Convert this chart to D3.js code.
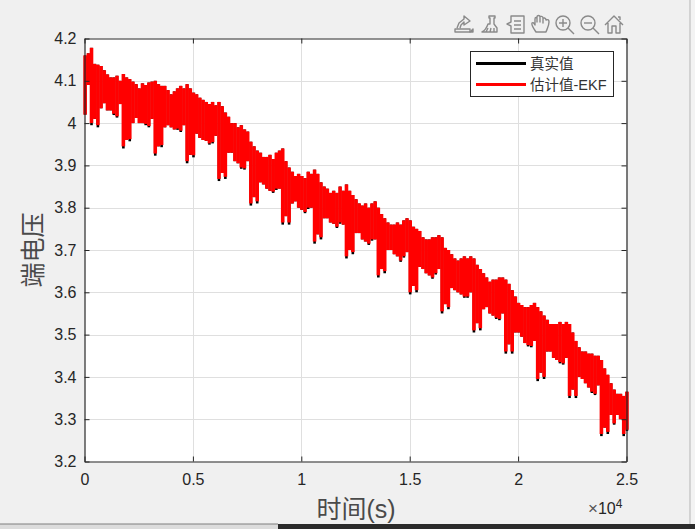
<!DOCTYPE html>
<html><head><meta charset="utf-8">
<script src="https://cdn.jsdelivr.net/npm/d3@7/dist/d3.min.js"></script>
<style>html,body{margin:0;padding:0;background:#f0f0f0;overflow:hidden}svg{display:block}</style>
</head><body><svg id="c" width="695" height="529"></svg>
<script>
const xTickValues = [0, 5000, 10000, 15000, 20000, 25000];
const xTickLabels = ["0", "0.5", "1", "1.5", "2", "2.5"];
const yTickValues = [3.2, 3.3, 3.4, 3.5, 3.6, 3.7, 3.8, 3.9, 4.0, 4.1, 4.2];
const yTickLabels = ["3.2", "3.3", "3.4", "3.5", "3.6", "3.7", "3.8", "3.9", "4", "4.1", "4.2"];
const seriesNames = ["真实值", "估计值-EKF"];
const seriesColors = ["#000000", "#ff0000"];
const xLabel = "时间(s)";
const yLabel = "端电压";

// Sample instants (s)
const sampleStart = 29, sampleStep = 147, sampleEnd = 25020;

// Upper envelope of both curves (V)
const peakV = [4.16,4.165,
4.178,4.14,4.138,4.135,4.125,4.115,4.108,4.108,4.112,4.10,
4.116,4.108,4.104,4.098,4.092,4.082,4.094,4.09,4.096,4.098,
4.10,4.092,4.088,4.088,4.078,4.068,4.075,4.082,4.088,4.082,
4.092,4.082,4.072,4.068,4.06,4.055,4.05,4.045,4.05,4.042,
4.05,4.04,4.025,4.015,4.0,4.0,3.99,3.995,3.985,3.98,
3.956,3.945,3.935,3.93,3.92,3.92,3.925,3.915,3.93,3.935,
3.94,3.91,3.895,3.885,3.875,3.88,3.875,3.87,3.885,3.88,
3.89,3.88,3.86,3.85,3.845,3.835,3.84,3.835,3.85,3.84,
3.855,3.84,3.83,3.82,3.81,3.805,3.81,3.80,3.81,3.815,
3.80,3.785,3.775,3.765,3.76,3.76,3.765,3.76,3.77,3.775,
3.77,3.755,3.75,3.745,3.73,3.725,3.725,3.73,3.73,3.735,
3.73,3.705,3.70,3.69,3.68,3.675,3.68,3.685,3.68,3.685,
3.68,3.665,3.655,3.645,3.635,3.625,3.63,3.63,3.635,3.635,
3.63,3.62,3.605,3.59,3.575,3.57,3.565,3.565,3.57,3.575,
3.565,3.555,3.545,3.535,3.525,3.525,3.525,3.53,3.525,3.53,
3.525,3.505,3.485,3.47,3.46,3.46,3.455,3.455,3.45,3.45,
3.44,3.42,3.405,3.385,3.37,3.36,3.36,3.355,3.365];

// Lower envelope of the EKF estimate (V)
const estTroughV = [4.02,4.09,
4.0,4.01,3.995,4.035,4.047,4.03,4.03,4.022,4.016,4.045,
3.945,3.96,3.962,4.0,4.012,4.0,4.0,3.998,3.993,4.01,
3.928,3.945,3.948,3.99,3.995,3.99,3.985,3.987,3.982,3.995,
3.91,3.925,3.924,3.975,3.965,3.96,3.958,3.952,3.955,3.97,
3.868,3.882,3.873,3.93,3.93,3.91,3.905,3.895,3.893,3.91,
3.81,3.825,3.815,3.86,3.855,3.845,3.84,3.838,3.845,3.845,
3.765,3.78,3.765,3.81,3.815,3.80,3.795,3.79,3.80,3.80,
3.72,3.737,3.73,3.775,3.775,3.765,3.762,3.755,3.765,3.76,
3.685,3.70,3.695,3.74,3.74,3.725,3.72,3.715,3.725,3.725,
3.64,3.655,3.65,3.70,3.70,3.69,3.685,3.675,3.685,3.695,
3.60,3.615,3.605,3.66,3.655,3.645,3.64,3.635,3.645,3.655,
3.555,3.572,3.565,3.61,3.605,3.60,3.595,3.59,3.59,3.60,
3.51,3.527,3.515,3.56,3.565,3.55,3.545,3.54,3.537,3.55,
3.46,3.477,3.46,3.505,3.505,3.495,3.48,3.475,3.473,3.485,
3.395,3.41,3.40,3.46,3.46,3.445,3.44,3.435,3.432,3.445,
3.355,3.37,3.355,3.40,3.395,3.385,3.375,3.365,3.36,3.38,
3.265,3.28,3.27,3.31,3.29,3.31,3.30,3.265,3.275];

// Lower envelope of the true curve (V): only the deepest teeth pass below the estimate
const trueTroughV = [4.02,4.09,
3.995,4.01,3.99,4.035,4.047,4.03,4.03,4.019,4.013,4.045,
3.94,3.96,3.957,4.0,4.012,4.0,4.0,3.995,3.99,4.01,
3.923,3.945,3.943,3.99,3.995,3.99,3.985,3.984,3.979,3.995,
3.905,3.925,3.919,3.975,3.965,3.96,3.958,3.949,3.952,3.97,
3.863,3.882,3.868,3.93,3.93,3.91,3.905,3.892,3.89,3.91,
3.805,3.825,3.81,3.86,3.855,3.845,3.84,3.835,3.842,3.845,
3.76,3.78,3.76,3.81,3.815,3.80,3.795,3.787,3.797,3.80,
3.715,3.737,3.725,3.775,3.775,3.765,3.762,3.752,3.762,3.76,
3.68,3.70,3.69,3.74,3.74,3.725,3.72,3.712,3.722,3.725,
3.635,3.655,3.645,3.70,3.70,3.69,3.685,3.672,3.682,3.695,
3.595,3.615,3.60,3.66,3.655,3.645,3.64,3.632,3.642,3.655,
3.55,3.572,3.56,3.61,3.605,3.60,3.595,3.587,3.587,3.60,
3.505,3.527,3.51,3.56,3.565,3.55,3.545,3.537,3.534,3.55,
3.455,3.477,3.455,3.505,3.505,3.495,3.48,3.472,3.47,3.485,
3.39,3.41,3.395,3.46,3.46,3.445,3.44,3.432,3.429,3.445,
3.35,3.37,3.35,3.40,3.395,3.385,3.375,3.362,3.357,3.38,
3.26,3.28,3.265,3.31,3.287,3.31,3.30,3.26,3.272];

const latin = '"Liberation Sans", Arial, sans-serif';
const cjk = '"Liberation Sans", "Noto Sans CJK SC", sans-serif';
const ink = "#262626";
const svg = d3.select("#c");
const m = {l: 84.5, r: 626.5, t: 38.5, b: 461.5};

svg.append("rect").attr("width", 695).attr("height", 529).attr("fill", "#f0f0f0");
svg.append("rect").attr("x", 690).attr("y", 0).attr("width", 5).attr("height", 529).attr("fill", "#f3f3f3");
svg.append("line").attr("x1", 690).attr("x2", 690).attr("y1", 0).attr("y2", 529).attr("stroke", "#b5b5b5");
svg.append("rect").attr("x", 0).attr("y", 524).attr("width", 278).attr("height", 5).attr("fill", "#dcdcdc");
svg.append("rect").attr("x", 278).attr("y", 524).attr("width", 417).attr("height", 5).attr("fill", "#2b2b2b");
svg.append("line").attr("x1", 0).attr("x2", 278).attr("y1", 524).attr("y2", 524).attr("stroke", "#7f7f7f");

const x = d3.scaleLinear().domain([0, 25000]).range([m.l, m.r]);
const y = d3.scaleLinear().domain([3.2, 4.2]).range([m.b, m.t]);

svg.append("rect").attr("x", m.l).attr("y", m.t).attr("width", m.r - m.l).attr("height", m.b - m.t).attr("fill", "#fff");

const grid = svg.append("g").attr("stroke", "#dfdfdf").attr("stroke-width", 1);
grid.selectAll(".gx").data(xTickValues.slice(1, -1)).join("line")
  .attr("x1", d => Math.round(x(d)) + .5).attr("x2", d => Math.round(x(d)) + .5).attr("y1", m.t).attr("y2", m.b);
grid.selectAll(".gy").data(yTickValues.slice(1, -1)).join("line")
  .attr("y1", d => Math.round(y(d)) + .5).attr("y2", d => Math.round(y(d)) + .5).attr("x1", m.l).attr("x2", m.r);

// curves: one vertical stroke per sample, so each tooth reaches its full height
const times = d3.range(sampleStart, sampleEnd, sampleStep);
[trueTroughV, estTroughV].forEach((lows, k) => {
  svg.append("g").selectAll("line").data(times).join("line")
    .attr("x1", d => x(d)).attr("x2", d => x(d))
    .attr("y1", (d, i) => y(peakV[i])).attr("y2", (d, i) => y(lows[i]))
    .attr("stroke", seriesColors[k]).attr("stroke-width", k ? 3.6 : 2.6);
});

function styleAxis(g) {
  g.selectAll("path.domain").attr("stroke", ink).attr("stroke-width", 1.2);
  g.selectAll(".tick line").attr("stroke", ink).attr("stroke-width", 1);
  g.selectAll("text").attr("fill", ink).style("font-family", latin).style("font-size", "16px");
}
const xFmt = d => xTickLabels[xTickValues.indexOf(d)];
const yFmt = d => yTickLabels[yTickValues.indexOf(d)];
svg.append("g").attr("transform", `translate(0,${m.b})`)
  .call(d3.axisBottom(x).tickValues(xTickValues).tickFormat(xFmt).tickSize(-5).tickSizeOuter(0).tickPadding(12)).call(styleAxis);
svg.append("g").attr("transform", `translate(0,${m.t})`)
  .call(d3.axisTop(x).tickValues(xTickValues).tickFormat("").tickSize(-5).tickSizeOuter(0)).call(styleAxis);
svg.append("g").attr("transform", `translate(${m.l},0)`)
  .call(d3.axisLeft(y).tickValues(yTickValues).tickFormat(yFmt).tickSize(-5).tickSizeOuter(0).tickPadding(8)).call(styleAxis);
svg.append("g").attr("transform", `translate(${m.r},0)`)
  .call(d3.axisRight(y).tickValues(yTickValues).tickFormat("").tickSize(-5).tickSizeOuter(0)).call(styleAxis);

svg.append("text").attr("x", 356).attr("y", 518).attr("text-anchor", "middle")
  .style("font-family", cjk).style("font-size", "25px").attr("fill", "#4a4a4a").text(xLabel);
svg.append("text").attr("transform", "translate(42,250) rotate(-90)").attr("text-anchor", "middle")
  .style("font-family", cjk).style("font-size", "25px").attr("fill", "#4a4a4a").text(yLabel);

const ex = svg.append("text").attr("x", 588).attr("y", 514).attr("fill", ink).style("font-family", latin);
ex.append("tspan").style("font-size", "17px").style("fill", "#555").text("×");
ex.append("tspan").style("font-size", "16px").text("10");
ex.append("tspan").attr("dy", -6).style("font-size", "12px").text("4");

const lg = svg.append("g");
lg.append("rect").attr("x", 470.5).attr("y", 51.5).attr("width", 143).attr("height", 45).attr("fill", "#fff").attr("stroke", ink).attr("stroke-width", 1);
seriesNames.forEach((n, i) => {
  const ly = 63.5 + i * 21;
  lg.append("line").attr("x1", 476).attr("x2", 526).attr("y1", ly).attr("y2", ly).attr("stroke", seriesColors[i]).attr("stroke-width", 3);
  lg.append("text").attr("x", 530).attr("y", ly + 5.5).attr("fill", "#333").style("font-family", cjk).style("font-size", "14.5px").text(n);
});

const tb = svg.append("g").attr("fill", "none").attr("stroke", "#8a8a8a").attr("stroke-width", 1.4).attr("stroke-linejoin", "round");
const icon = (tx, d, extra) => {
  const g = tb.append("g").attr("transform", `translate(${tx},15)`);
  g.append("path").attr("d", d);
  if (extra) extra(g);
};
icon(455, "M0 14H15V17H0ZM2 13L4 8L9 4V1L15 6L9 10V7L6 10L5 13", g => g.append("path").attr("d", "M15 17l3 -3v3z").attr("fill", "#808080"));
icon(481, "M8 1H14V3H13V9L16 13V17H1C5 15 6 12 7 9H9V3H8Z M5 17L7 13 M9 17L10 13 M13 17L13 13");
icon(506, "M5 1H18V18H5V11L1 9L5 7Z M8 6H15 M8 10H15 M8 14H15");
icon(531, "M5 17C3 14 0 10 1 8C2 7 3 8 4 10V4C4 2 6 2 6 4V7V2C6 0 9 0 9 2V7V2C9 1 12 1 12 3V8V4C12 2 15 3 15 5C17 4 18 5 18 7C18 11 16 14 15 17Z");
icon(555, "M13 13L19 19", g => {
  g.append("circle").attr("cx", 8).attr("cy", 8).attr("r", 7);
  g.append("path").attr("d", "M4 8H12M8 4V12");
});
icon(580, "M13 13L19 19", g => {
  g.append("circle").attr("cx", 8).attr("cy", 8).attr("r", 7);
  g.append("path").attr("d", "M4 8H12");
});
icon(605, "M0 10L9 1L18 10 M3 8V18H7V11H11V18H15V8 M13 2H15V5");
</script></body></html>
